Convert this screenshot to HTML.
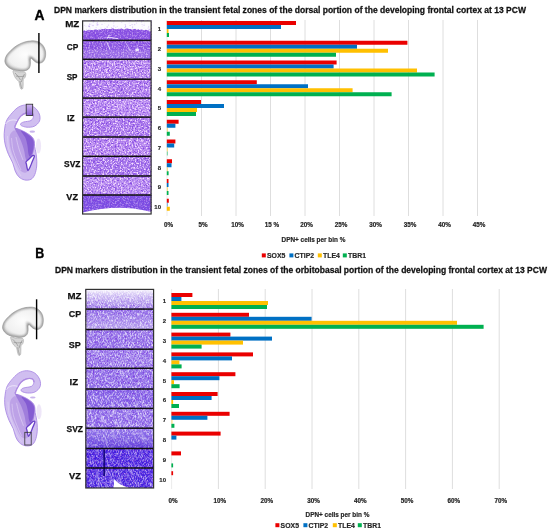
<!DOCTYPE html>
<html><head><meta charset="utf-8"><style>
html,body{margin:0;padding:0;background:#fff;}
svg{display:block;will-change:transform;}
text{font-family:"Liberation Sans",sans-serif;font-weight:bold;fill:#262626;}
.bl{font-size:6.0px;stroke:#262626;stroke-width:0.15px;}
.ax{font-size:6.3px;stroke:#262626;stroke-width:0.2px;}
.xt{font-size:6.4px;stroke:#262626;stroke-width:0.18px;}
.lg{font-size:6.9px;stroke:#262626;stroke-width:0.18px;}
.zl{font-size:9.8px;fill:#111;stroke:#111;stroke-width:0.25px;}
.tt{font-size:8.6px;fill:#111;stroke:#111;stroke-width:0.26px;}
.big{font-size:14.6px;fill:#000;stroke:#000;stroke-width:0.35px;}
</style></head><body>
<svg width="550" height="531" viewBox="0 0 550 531">
<defs>
<filter id="texA" x="0" y="0" width="100%" height="100%" color-interpolation-filters="sRGB">
<feTurbulence type="fractalNoise" baseFrequency="0.65" numOctaves="3" seed="3" result="n"/>
<feColorMatrix in="n" type="matrix" values="0 0 0 0 0.96  0 0 0 0 0.86  0 0 0 0 1  3.4 0 0 0 -1.55"/>
</filter>
<filter id="texB" x="0" y="0" width="100%" height="100%" color-interpolation-filters="sRGB">
<feTurbulence type="fractalNoise" baseFrequency="1.6 0.45" numOctaves="2" seed="7" result="n"/>
<feColorMatrix in="n" type="matrix" values="0 0 0 0 0.94  0 0 0 0 0.92  0 0 0 0 1  3.0 0 0 0 -1.3"/>
</filter>
<filter id="dk" x="0" y="0" width="100%" height="100%" color-interpolation-filters="sRGB">
<feTurbulence type="fractalNoise" baseFrequency="0.6" numOctaves="2" seed="11" result="n"/>
<feColorMatrix in="n" type="matrix" values="0 0 0 0 0.5  0 0 0 0 0.26  0 0 0 0 0.88  3.4 0 0 0 -1.6"/>
</filter>
<radialGradient id="bgrad" cx="0.5" cy="0.45" r="0.62"><stop offset="0" stop-color="#fdfdfd"/><stop offset="0.7" stop-color="#f0f0f0"/><stop offset="1" stop-color="#c8c8c8"/></radialGradient>
<linearGradient id="gB1" x1="0" y1="0" x2="0" y2="1"><stop offset="0" stop-color="#fff" stop-opacity="0.95"/><stop offset="0.25" stop-color="#fff" stop-opacity="0.6"/><stop offset="1" stop-color="#fff" stop-opacity="0"/></linearGradient>
<linearGradient id="gB2" x1="0" y1="0" x2="0" y2="1"><stop offset="0" stop-color="#fff" stop-opacity="0"/><stop offset="1" stop-color="#fff" stop-opacity="0.35"/></linearGradient>
<linearGradient id="gB8" x1="0" y1="0" x2="0" y2="1"><stop offset="0" stop-color="#fff" stop-opacity="0.2"/><stop offset="1" stop-color="rgb(60,30,200)" stop-opacity="0.35"/></linearGradient>
<linearGradient id="gRect" x1="0" y1="0" x2="0" y2="1"><stop offset="0" stop-color="rgb(205,180,238)"/><stop offset="1" stop-color="rgb(135,95,212)"/></linearGradient>
<clipPath id="bclip"><path d="M4.90,60.00 C5.10,58.57 5.68,56.73 6.70,55.10 C7.72,53.47 9.25,51.83 11.00,50.20 C12.75,48.57 14.95,46.67 17.20,45.30 C19.45,43.93 22.05,42.75 24.50,42.00 C26.95,41.25 29.85,40.92 31.90,40.80 C33.95,40.68 35.27,40.85 36.80,41.30 C38.33,41.75 39.88,42.52 41.10,43.50 C42.32,44.48 43.35,45.77 44.10,47.20 C44.85,48.63 45.40,50.37 45.60,52.10 C45.80,53.83 45.65,56.07 45.30,57.60 C44.95,59.13 44.32,60.38 43.50,61.30 C42.68,62.22 41.52,62.85 40.40,63.10 C39.28,63.35 37.92,63.22 36.80,62.80 C35.68,62.38 34.57,61.33 33.70,60.60 C32.83,59.87 32.15,58.60 31.60,58.40 C31.05,58.20 30.60,58.42 30.40,59.40 C30.20,60.38 30.57,62.87 30.40,64.30 C30.23,65.73 30.08,66.98 29.40,68.00 C28.72,69.02 27.73,69.88 26.30,70.40 C24.87,70.92 22.93,71.20 20.80,71.10 C18.67,71.00 15.53,70.42 13.50,69.80 C11.47,69.18 9.93,68.42 8.60,67.40 C7.27,66.38 6.12,64.93 5.50,63.70 C4.88,62.47 4.70,61.43 4.90,60.00 Z"/></clipPath><filter id="bblur" x="-20%" y="-20%" width="140%" height="140%"><feGaussianBlur stdDeviation="0.9"/></filter>
</defs>

<g id="brain3d">
<path d="M13.20,70.50 C13.90,70.05 16.12,71.55 18.00,71.80 C19.88,72.05 23.20,71.55 24.50,72.00 C25.80,72.45 25.72,73.58 25.80,74.50 C25.88,75.42 25.42,76.67 25.00,77.50 C24.58,78.33 23.60,78.42 23.30,79.50 C23.00,80.58 23.28,82.53 23.20,84.00 C23.12,85.47 23.17,87.47 22.80,88.30 C22.43,89.13 21.50,89.38 21.00,89.00 C20.50,88.62 20.17,87.25 19.80,86.00 C19.43,84.75 19.47,82.75 18.80,81.50 C18.13,80.25 16.63,79.67 15.80,78.50 C14.97,77.33 14.23,75.83 13.80,74.50 C13.37,73.17 12.50,70.95 13.20,70.50 Z" fill="#d6d6d6" stroke="#9a9a9a" stroke-width="0.5"/>
<path d="M15,73 C17,75 19,77 20.5,80 M24.5,74 C23,76.5 22,79 21.3,82 M20,81 C20.5,84 21,86 21.8,88.5 M16,76 C18.5,76.5 21,77 24.5,76" stroke="#888" stroke-width="0.6" fill="none"/>
<path d="M4.90,60.00 C5.10,58.57 5.68,56.73 6.70,55.10 C7.72,53.47 9.25,51.83 11.00,50.20 C12.75,48.57 14.95,46.67 17.20,45.30 C19.45,43.93 22.05,42.75 24.50,42.00 C26.95,41.25 29.85,40.92 31.90,40.80 C33.95,40.68 35.27,40.85 36.80,41.30 C38.33,41.75 39.88,42.52 41.10,43.50 C42.32,44.48 43.35,45.77 44.10,47.20 C44.85,48.63 45.40,50.37 45.60,52.10 C45.80,53.83 45.65,56.07 45.30,57.60 C44.95,59.13 44.32,60.38 43.50,61.30 C42.68,62.22 41.52,62.85 40.40,63.10 C39.28,63.35 37.92,63.22 36.80,62.80 C35.68,62.38 34.57,61.33 33.70,60.60 C32.83,59.87 32.15,58.60 31.60,58.40 C31.05,58.20 30.60,58.42 30.40,59.40 C30.20,60.38 30.57,62.87 30.40,64.30 C30.23,65.73 30.08,66.98 29.40,68.00 C28.72,69.02 27.73,69.88 26.30,70.40 C24.87,70.92 22.93,71.20 20.80,71.10 C18.67,71.00 15.53,70.42 13.50,69.80 C11.47,69.18 9.93,68.42 8.60,67.40 C7.27,66.38 6.12,64.93 5.50,63.70 C4.88,62.47 4.70,61.43 4.90,60.00 Z" fill="url(#bgrad)"/>
<g clip-path="url(#bclip)"><path d="M4.90,60.00 C5.10,58.57 5.68,56.73 6.70,55.10 C7.72,53.47 9.25,51.83 11.00,50.20 C12.75,48.57 14.95,46.67 17.20,45.30 C19.45,43.93 22.05,42.75 24.50,42.00 C26.95,41.25 29.85,40.92 31.90,40.80 C33.95,40.68 35.27,40.85 36.80,41.30 C38.33,41.75 39.88,42.52 41.10,43.50 C42.32,44.48 43.35,45.77 44.10,47.20 C44.85,48.63 45.40,50.37 45.60,52.10 C45.80,53.83 45.65,56.07 45.30,57.60 C44.95,59.13 44.32,60.38 43.50,61.30 C42.68,62.22 41.52,62.85 40.40,63.10 C39.28,63.35 37.92,63.22 36.80,62.80 C35.68,62.38 34.57,61.33 33.70,60.60 C32.83,59.87 32.15,58.60 31.60,58.40 C31.05,58.20 30.60,58.42 30.40,59.40 C30.20,60.38 30.57,62.87 30.40,64.30 C30.23,65.73 30.08,66.98 29.40,68.00 C28.72,69.02 27.73,69.88 26.30,70.40 C24.87,70.92 22.93,71.20 20.80,71.10 C18.67,71.00 15.53,70.42 13.50,69.80 C11.47,69.18 9.93,68.42 8.60,67.40 C7.27,66.38 6.12,64.93 5.50,63.70 C4.88,62.47 4.70,61.43 4.90,60.00 Z" fill="none" stroke="#9a9a9a" stroke-width="2.6" filter="url(#bblur)"/>
<path d="M29.00,55.50 C29.50,55.42 31.08,56.75 32.00,57.50 C32.92,58.25 33.58,59.20 34.50,60.00 C35.42,60.80 36.52,61.78 37.50,62.30 C38.48,62.82 40.48,62.82 40.40,63.10 C40.32,63.38 38.15,63.93 37.00,64.00 C35.85,64.07 34.50,63.33 33.50,63.50 C32.50,63.67 31.58,65.33 31.00,65.00 C30.42,64.67 30.33,62.67 30.00,61.50 C29.67,60.33 29.17,59.00 29.00,58.00 C28.83,57.00 28.50,55.58 29.00,55.50 Z" fill="#8c8c8c" opacity="0.6" filter="url(#bblur)"/></g>
<path d="M4.90,60.00 C5.10,58.57 5.68,56.73 6.70,55.10 C7.72,53.47 9.25,51.83 11.00,50.20 C12.75,48.57 14.95,46.67 17.20,45.30 C19.45,43.93 22.05,42.75 24.50,42.00 C26.95,41.25 29.85,40.92 31.90,40.80 C33.95,40.68 35.27,40.85 36.80,41.30 C38.33,41.75 39.88,42.52 41.10,43.50 C42.32,44.48 43.35,45.77 44.10,47.20 C44.85,48.63 45.40,50.37 45.60,52.10 C45.80,53.83 45.65,56.07 45.30,57.60 C44.95,59.13 44.32,60.38 43.50,61.30 C42.68,62.22 41.52,62.85 40.40,63.10 C39.28,63.35 37.92,63.22 36.80,62.80 C35.68,62.38 34.57,61.33 33.70,60.60 C32.83,59.87 32.15,58.60 31.60,58.40 C31.05,58.20 30.60,58.42 30.40,59.40 C30.20,60.38 30.57,62.87 30.40,64.30 C30.23,65.73 30.08,66.98 29.40,68.00 C28.72,69.02 27.73,69.88 26.30,70.40 C24.87,70.92 22.93,71.20 20.80,71.10 C18.67,71.00 15.53,70.42 13.50,69.80 C11.47,69.18 9.93,68.42 8.60,67.40 C7.27,66.38 6.12,64.93 5.50,63.70 C4.88,62.47 4.70,61.43 4.90,60.00 Z" fill="none" stroke="#8e8e8e" stroke-width="0.5"/>
<rect x="38.2" y="33" width="1.4" height="40" fill="#000"/>
</g>


<g id="sectA">
<path d="M4.50,130.00 C4.83,127.42 5.18,124.05 6.20,121.50 C7.22,118.95 8.63,117.05 10.60,114.70 C12.57,112.35 15.40,109.03 18.00,107.40 C20.60,105.77 23.47,104.90 26.20,104.90 C28.93,104.90 32.22,105.88 34.40,107.40 C36.58,108.92 38.45,111.73 39.30,114.00 C40.15,116.27 40.32,118.97 39.50,121.00 C38.68,123.03 36.48,125.17 34.40,126.20 C32.32,127.23 29.18,127.30 27.00,127.20 C24.82,127.10 22.33,126.20 21.30,125.60 C20.27,125.00 20.40,124.20 20.80,123.60 C21.20,123.00 22.00,122.52 23.70,122.00 C25.40,121.48 29.37,121.43 31.00,120.50 C32.63,119.57 33.33,117.62 33.50,116.40 C33.67,115.18 33.22,113.77 32.00,113.20 C30.78,112.63 28.12,112.47 26.20,113.00 C24.28,113.53 22.13,114.73 20.50,116.40 C18.87,118.07 17.37,121.10 16.40,123.00 C15.43,124.90 14.17,126.72 14.70,127.80 C15.23,128.88 17.68,128.68 19.60,129.50 C21.52,130.32 24.15,131.48 26.20,132.70 C28.25,133.92 30.57,135.42 31.90,136.80 C33.23,138.18 33.75,139.37 34.20,141.00 C34.65,142.63 34.33,144.77 34.60,146.60 C34.87,148.43 35.47,150.10 35.80,152.00 C36.13,153.90 36.45,155.67 36.60,158.00 C36.75,160.33 37.00,163.25 36.70,166.00 C36.40,168.75 35.75,172.28 34.80,174.50 C33.85,176.72 32.72,178.40 31.00,179.30 C29.28,180.20 26.53,180.32 24.50,179.90 C22.47,179.48 20.35,178.28 18.80,176.80 C17.25,175.32 16.20,173.30 15.20,171.00 C14.20,168.70 13.92,165.75 12.80,163.00 C11.68,160.25 9.75,157.50 8.50,154.50 C7.25,151.50 6.02,147.92 5.30,145.00 C4.58,142.08 4.33,139.50 4.20,137.00 C4.07,134.50 4.17,132.58 4.50,130.00 Z" fill="rgb(208,190,240)" stroke="rgb(172,140,228)" stroke-width="0.9"/>
<path d="M9.50,137.00 C9.83,133.83 11.58,131.92 13.00,131.00 C14.42,130.08 16.00,130.83 18.00,131.50 C20.00,132.17 22.83,133.25 25.00,135.00 C27.17,136.75 29.67,139.17 31.00,142.00 C32.33,144.83 33.00,148.50 33.00,152.00 C33.00,155.50 32.00,159.67 31.00,163.00 C30.00,166.33 28.67,170.67 27.00,172.00 C25.33,173.33 22.83,172.67 21.00,171.00 C19.17,169.33 17.67,165.50 16.00,162.00 C14.33,158.50 12.08,154.17 11.00,150.00 C9.92,145.83 9.17,140.17 9.50,137.00 Z" fill="rgb(186,158,230)" opacity="0.9"/>
<path d="M7.50,136.00 C7.67,138.00 7.75,144.33 8.50,148.00 C9.25,151.67 10.75,154.67 12.00,158.00 C13.25,161.33 14.50,165.00 16.00,168.00 C17.50,171.00 20.17,174.67 21.00,176.00 " stroke="rgb(228,215,246)" stroke-width="0.7" fill="none" opacity="0.8"/><path d="M11.50,138.00 C11.75,140.00 12.08,146.17 13.00,150.00 C13.92,153.83 15.67,157.67 17.00,161.00 C18.33,164.33 20.33,168.50 21.00,170.00 " stroke="rgb(228,215,246)" stroke-width="0.7" fill="none" opacity="0.8"/><path d="M16.00,137.00 C16.50,139.00 17.83,145.17 19.00,149.00 C20.17,152.83 22.33,158.17 23.00,160.00 " stroke="rgb(228,215,246)" stroke-width="0.7" fill="none" opacity="0.8"/>
<path d="M33.50,116.40 C33.25,115.87 33.22,113.77 32.00,113.20 C30.78,112.63 28.12,112.47 26.20,113.00 C24.28,113.53 22.13,114.73 20.50,116.40 C18.87,118.07 17.37,121.10 16.40,123.00 C15.43,124.90 14.98,127.00 14.70,127.80 " stroke="rgb(175,140,225)" stroke-width="1.3" fill="none"/>
<path d="M14.70,128.00 C15.13,127.43 17.68,128.80 19.60,129.60 C21.52,130.40 24.15,131.58 26.20,132.80 C28.25,134.02 30.58,135.53 31.90,136.90 C33.22,138.27 33.72,139.38 34.10,141.00 C34.48,142.62 34.38,144.52 34.20,146.60 C34.02,148.68 33.78,151.52 33.00,153.50 C32.22,155.48 30.50,157.33 29.50,158.50 C28.50,159.67 27.67,160.58 27.00,160.50 C26.33,160.42 26.00,159.75 25.50,158.00 C25.00,156.25 24.75,152.83 24.00,150.00 C23.25,147.17 22.17,143.83 21.00,141.00 C19.83,138.17 18.05,135.17 17.00,133.00 C15.95,130.83 14.27,128.57 14.70,128.00 Z" fill="rgb(160,126,220)"/>
<path d="M21.00,131.00 C21.17,130.25 24.75,132.42 26.50,133.50 C28.25,134.58 30.32,136.17 31.50,137.50 C32.68,138.83 33.27,139.92 33.60,141.50 C33.93,143.08 33.73,145.08 33.50,147.00 C33.27,148.92 32.82,151.42 32.20,153.00 C31.58,154.58 30.45,156.50 29.80,156.50 C29.15,156.50 28.68,154.75 28.30,153.00 C27.92,151.25 27.97,148.50 27.50,146.00 C27.03,143.50 26.58,140.50 25.50,138.00 C24.42,135.50 20.83,131.75 21.00,131.00 Z" fill="rgb(132,92,210)"/>
<path d="M26.00,162.00 C26.42,161.08 27.92,160.05 29.00,159.00 C30.08,157.95 31.60,156.17 32.50,155.70 C33.40,155.23 34.43,155.23 34.40,156.20 C34.37,157.17 33.02,159.70 32.30,161.50 C31.58,163.30 30.82,165.50 30.10,167.00 C29.38,168.50 28.52,170.42 28.00,170.50 C27.48,170.58 27.25,168.50 27.00,167.50 C26.75,166.50 26.67,165.42 26.50,164.50 C26.33,163.58 25.58,162.92 26.00,162.00 Z" fill="#fcfaff" stroke="rgb(105,65,200)" stroke-width="1.3"/>
<ellipse cx="38.5" cy="146" rx="2.6" ry="7.5" fill="rgb(226,214,244)" opacity="0.6"/>
<ellipse cx="32.3" cy="131.7" rx="2.8" ry="1.1" fill="rgb(200,180,236)"/>
<path d="M5.5,124 C8,120.5 12,119 17,120.5" stroke="#f4effc" stroke-width="0.8" fill="none"/>
</g>
<rect x="26.2" y="104.2" width="6.5" height="11.3" fill="url(#gRect)" stroke="#2a2a2a" stroke-width="0.8"/>
<use href="#brain3d" transform="translate(-2.3,266.3)"/>
<use href="#sectA" transform="translate(0.5,265.8)"/>
<rect x="24.8" y="432.3" width="6.4" height="12.7" fill="none" stroke="#333" stroke-width="0.8"/>
<text x="34.6" y="20.4" class="big" textLength="10" lengthAdjust="spacingAndGlyphs">A</text>
<text x="35.2" y="258.2" class="big" textLength="9" lengthAdjust="spacingAndGlyphs">B</text>
<text x="54" y="12.6" class="tt" textLength="472" lengthAdjust="spacingAndGlyphs">DPN markers distribution in the transient fetal zones of the dorsal portion of the developing frontal cortex at 13 PCW</text>
<text x="55" y="273" class="tt" textLength="492" lengthAdjust="spacingAndGlyphs">DPN markers distribution in the transient fetal zones of the orbitobasal portion of the developing frontal cortex at 13 PCW</text>
<rect x="82.6" y="20.90" width="68.50" height="19.50" fill="rgb(138,84,226)"/>
<rect x="82.6" y="40.40" width="68.50" height="18.90" fill="rgb(142,92,228)"/>
<rect x="82.6" y="59.30" width="68.50" height="19.90" fill="rgb(180,134,238)"/>
<rect x="82.6" y="79.20" width="68.50" height="18.90" fill="rgb(172,124,236)"/>
<rect x="82.6" y="98.10" width="68.50" height="19.00" fill="rgb(182,137,240)"/>
<rect x="82.6" y="117.10" width="68.50" height="19.90" fill="rgb(170,122,236)"/>
<rect x="82.6" y="137.00" width="68.50" height="19.30" fill="rgb(180,133,238)"/>
<rect x="82.6" y="156.30" width="68.50" height="19.70" fill="rgb(163,116,234)"/>
<rect x="82.6" y="176.00" width="68.50" height="19.00" fill="rgb(182,139,240)"/>
<rect x="82.6" y="195.00" width="68.50" height="19.00" fill="rgb(122,78,226)"/>

<rect x="82.6" y="20.9" width="68.5" height="193.1" filter="url(#dk)" fill="#fff"/>
<rect x="82.6" y="20.90" width="68.50" height="19.50" filter="url(#texA)" fill="#fff" opacity="0.45"/>
<rect x="82.6" y="40.40" width="68.50" height="18.90" filter="url(#texA)" fill="#fff" opacity="0.55"/>
<rect x="82.6" y="59.30" width="68.50" height="19.90" filter="url(#texA)" fill="#fff" opacity="1"/>
<rect x="82.6" y="79.20" width="68.50" height="18.90" filter="url(#texA)" fill="#fff" opacity="1"/>
<rect x="82.6" y="98.10" width="68.50" height="19.00" filter="url(#texA)" fill="#fff" opacity="1"/>
<rect x="82.6" y="117.10" width="68.50" height="19.90" filter="url(#texA)" fill="#fff" opacity="1"/>
<rect x="82.6" y="137.00" width="68.50" height="19.30" filter="url(#texA)" fill="#fff" opacity="1"/>
<rect x="82.6" y="156.30" width="68.50" height="19.70" filter="url(#texA)" fill="#fff" opacity="1"/>
<rect x="82.6" y="176.00" width="68.50" height="19.00" filter="url(#texA)" fill="#fff" opacity="1"/>
<rect x="82.6" y="195.00" width="68.50" height="19.00" filter="url(#texA)" fill="#fff" opacity="0.45"/>
<path d="M82.6,20.8 H151.1 V31.0 L150.1,31.0 L148.6,30.6 L147.1,30.0 L145.6,29.8 L144.1,30.5 L142.6,29.8 L141.1,29.4 L139.6,30.1 L138.1,29.0 L136.6,29.8 L135.1,28.8 L133.6,29.2 L132.1,29.4 L130.6,29.1 L129.1,28.9 L127.6,28.4 L126.1,28.6 L124.6,29.2 L123.1,29.2 L121.6,28.4 L120.1,29.0 L118.6,28.7 L117.1,29.2 L115.6,29.2 L114.1,29.1 L112.6,28.3 L111.1,28.9 L109.6,28.9 L108.1,29.2 L106.6,29.1 L105.1,28.6 L103.6,29.2 L102.1,29.0 L100.6,29.7 L99.1,29.6 L97.6,29.9 L96.1,29.6 L94.6,29.5 L93.1,30.3 L91.6,30.1 L90.1,30.0 L88.6,29.8 L87.1,30.6 L85.6,31.0 L84.1,30.2 L82.6,31.3 Z" fill="rgb(252,251,255)"/><circle cx="113.9" cy="26.0" r="0.67" fill="rgb(170,130,235)" opacity="0.39"/><circle cx="117.5" cy="26.2" r="0.37" fill="rgb(170,130,235)" opacity="0.40"/><circle cx="125.6" cy="27.8" r="0.34" fill="rgb(170,130,235)" opacity="0.32"/><circle cx="90.0" cy="28.0" r="0.58" fill="rgb(170,130,235)" opacity="0.22"/><circle cx="148.8" cy="29.2" r="0.56" fill="rgb(170,130,235)" opacity="0.45"/><circle cx="94.4" cy="21.6" r="0.51" fill="rgb(170,130,235)" opacity="0.22"/><circle cx="96.6" cy="23.4" r="0.31" fill="rgb(170,130,235)" opacity="0.39"/><circle cx="113.1" cy="28.2" r="0.51" fill="rgb(170,130,235)" opacity="0.46"/><circle cx="117.0" cy="26.8" r="0.48" fill="rgb(170,130,235)" opacity="0.31"/><circle cx="149.8" cy="29.5" r="0.64" fill="rgb(170,130,235)" opacity="0.48"/><circle cx="104.8" cy="23.3" r="0.42" fill="rgb(170,130,235)" opacity="0.23"/><circle cx="134.6" cy="24.7" r="0.64" fill="rgb(170,130,235)" opacity="0.35"/><circle cx="147.2" cy="28.3" r="0.30" fill="rgb(170,130,235)" opacity="0.28"/><circle cx="144.1" cy="25.3" r="0.69" fill="rgb(170,130,235)" opacity="0.36"/><circle cx="88.8" cy="26.5" r="0.61" fill="rgb(170,130,235)" opacity="0.31"/><circle cx="89.8" cy="24.2" r="0.69" fill="rgb(170,130,235)" opacity="0.50"/><circle cx="91.8" cy="23.5" r="0.34" fill="rgb(170,130,235)" opacity="0.22"/><circle cx="136.6" cy="22.9" r="0.52" fill="rgb(170,130,235)" opacity="0.38"/><circle cx="96.6" cy="27.4" r="0.35" fill="rgb(170,130,235)" opacity="0.46"/><circle cx="91.7" cy="24.9" r="0.39" fill="rgb(170,130,235)" opacity="0.31"/><circle cx="148.1" cy="27.9" r="0.42" fill="rgb(170,130,235)" opacity="0.55"/><circle cx="97.9" cy="24.7" r="0.64" fill="rgb(170,130,235)" opacity="0.46"/><circle cx="90.6" cy="29.4" r="0.39" fill="rgb(170,130,235)" opacity="0.30"/><circle cx="135.0" cy="24.1" r="0.42" fill="rgb(170,130,235)" opacity="0.23"/><circle cx="89.9" cy="26.2" r="0.40" fill="rgb(170,130,235)" opacity="0.44"/><circle cx="108.5" cy="25.1" r="0.68" fill="rgb(170,130,235)" opacity="0.39"/><circle cx="121.9" cy="28.4" r="0.37" fill="rgb(170,130,235)" opacity="0.26"/><circle cx="144.0" cy="28.0" r="0.40" fill="rgb(170,130,235)" opacity="0.28"/><circle cx="132.8" cy="29.0" r="0.38" fill="rgb(170,130,235)" opacity="0.58"/><circle cx="142.2" cy="26.3" r="0.47" fill="rgb(170,130,235)" opacity="0.24"/><circle cx="86.6" cy="29.2" r="0.40" fill="rgb(170,130,235)" opacity="0.48"/><circle cx="101.0" cy="28.1" r="0.54" fill="rgb(170,130,235)" opacity="0.32"/><circle cx="95.6" cy="27.3" r="0.33" fill="rgb(170,130,235)" opacity="0.29"/><circle cx="120.9" cy="28.3" r="0.55" fill="rgb(170,130,235)" opacity="0.31"/><circle cx="144.5" cy="23.1" r="0.31" fill="rgb(170,130,235)" opacity="0.31"/><circle cx="113.4" cy="22.0" r="0.37" fill="rgb(170,130,235)" opacity="0.35"/><circle cx="121.8" cy="22.6" r="0.44" fill="rgb(170,130,235)" opacity="0.56"/><circle cx="148.7" cy="26.8" r="0.58" fill="rgb(170,130,235)" opacity="0.43"/><circle cx="93.3" cy="21.8" r="0.31" fill="rgb(170,130,235)" opacity="0.56"/><circle cx="130.3" cy="29.2" r="0.31" fill="rgb(170,130,235)" opacity="0.45"/><circle cx="115.8" cy="27.3" r="0.43" fill="rgb(170,130,235)" opacity="0.60"/><circle cx="89.0" cy="25.9" r="0.59" fill="rgb(170,130,235)" opacity="0.56"/><circle cx="132.6" cy="27.1" r="0.62" fill="rgb(170,130,235)" opacity="0.57"/><circle cx="107.2" cy="27.0" r="0.66" fill="rgb(170,130,235)" opacity="0.55"/><circle cx="111.5" cy="27.8" r="0.65" fill="rgb(170,130,235)" opacity="0.43"/><circle cx="125.2" cy="24.6" r="0.53" fill="rgb(170,130,235)" opacity="0.44"/><circle cx="89.3" cy="26.6" r="0.70" fill="rgb(170,130,235)" opacity="0.55"/><circle cx="132.1" cy="24.6" r="0.59" fill="rgb(170,130,235)" opacity="0.43"/><circle cx="113.1" cy="28.2" r="0.33" fill="rgb(170,130,235)" opacity="0.50"/><circle cx="86.0" cy="26.3" r="0.49" fill="rgb(170,130,235)" opacity="0.29"/><circle cx="130.1" cy="25.5" r="0.55" fill="rgb(170,130,235)" opacity="0.57"/><circle cx="100.9" cy="21.6" r="0.42" fill="rgb(170,130,235)" opacity="0.47"/><circle cx="97.4" cy="22.9" r="0.66" fill="rgb(170,130,235)" opacity="0.46"/><circle cx="113.2" cy="28.6" r="0.43" fill="rgb(170,130,235)" opacity="0.47"/><circle cx="97.1" cy="24.9" r="0.62" fill="rgb(170,130,235)" opacity="0.57"/><circle cx="142.1" cy="24.6" r="0.53" fill="rgb(170,130,235)" opacity="0.33"/><circle cx="93.0" cy="25.5" r="0.63" fill="rgb(170,130,235)" opacity="0.54"/><circle cx="130.9" cy="29.1" r="0.41" fill="rgb(170,130,235)" opacity="0.27"/><circle cx="113.7" cy="23.7" r="0.39" fill="rgb(170,130,235)" opacity="0.37"/><circle cx="125.3" cy="25.5" r="0.43" fill="rgb(170,130,235)" opacity="0.54"/><circle cx="148.8" cy="25.1" r="0.33" fill="rgb(170,130,235)" opacity="0.21"/><circle cx="141.6" cy="21.8" r="0.58" fill="rgb(170,130,235)" opacity="0.43"/><circle cx="104.4" cy="27.8" r="0.31" fill="rgb(170,130,235)" opacity="0.25"/><circle cx="114.0" cy="21.7" r="0.63" fill="rgb(170,130,235)" opacity="0.29"/><circle cx="93.3" cy="21.9" r="0.55" fill="rgb(170,130,235)" opacity="0.38"/><circle cx="125.6" cy="26.7" r="0.62" fill="rgb(170,130,235)" opacity="0.58"/><circle cx="129.2" cy="23.1" r="0.49" fill="rgb(170,130,235)" opacity="0.27"/><circle cx="84.7" cy="25.3" r="0.59" fill="rgb(170,130,235)" opacity="0.27"/><circle cx="102.0" cy="24.3" r="0.58" fill="rgb(170,130,235)" opacity="0.41"/><circle cx="124.6" cy="27.5" r="0.46" fill="rgb(170,130,235)" opacity="0.52"/><path d="M107.3,37.5 C110,37 114,38 118.2,38.8" stroke="#f8f4fe" stroke-width="1" fill="none" opacity="0.8"/><path d="M109.3,34.7 C108.5,36 107.8,37.5 107.3,38.8" stroke="#f8f4fe" stroke-width="0.9" fill="none" opacity="0.8"/><path d="M106.6,41.6 C107.5,44 109,46.5 110,49.7" stroke="#f8f4fe" stroke-width="1" fill="none" opacity="0.75"/><path d="M125,41.6 C127,44.5 129,48 130.5,51" stroke="#f4eefc" stroke-width="0.8" fill="none" opacity="0.6"/><ellipse cx="137.3" cy="49.7" rx="1.8" ry="1.5" fill="#f8f4fe" opacity="0.9"/><rect x="83" y="50" width="67.7" height="9" fill="#fff" opacity="0.12"/><path d="M82.6,214 L82.6,212.5 C95,209 108,207.6 121,207.7 C133,207.8 143,210 151.1,211.8 V214 Z" fill="#fff"/>
<rect x="82.6" y="39.65" width="68.50" height="1.5" fill="#0e0e0e"/>
<rect x="82.6" y="58.55" width="68.50" height="1.5" fill="#0e0e0e"/>
<rect x="82.6" y="78.45" width="68.50" height="1.5" fill="#0e0e0e"/>
<rect x="82.6" y="97.35" width="68.50" height="1.5" fill="#0e0e0e"/>
<rect x="82.6" y="116.35" width="68.50" height="1.5" fill="#0e0e0e"/>
<rect x="82.6" y="136.25" width="68.50" height="1.5" fill="#0e0e0e"/>
<rect x="82.6" y="155.55" width="68.50" height="1.5" fill="#0e0e0e"/>
<rect x="82.6" y="175.25" width="68.50" height="1.5" fill="#0e0e0e"/>
<rect x="82.6" y="194.25" width="68.50" height="1.5" fill="#0e0e0e"/>
<rect x="82.6" y="20.9" width="68.5" height="193.1" fill="none" stroke="#333" stroke-width="1.2"/>

<text x="65.2" y="27.4" class="zl" textLength="14.099999999999994" lengthAdjust="spacingAndGlyphs">MZ</text>
<text x="66.7" y="50.2" class="zl" textLength="11.599999999999994" lengthAdjust="spacingAndGlyphs">CP</text>
<text x="66.7" y="80.3" class="zl" textLength="10.799999999999997" lengthAdjust="spacingAndGlyphs">SP</text>
<text x="66.9" y="120.9" class="zl" textLength="7.799999999999997" lengthAdjust="spacingAndGlyphs">IZ</text>
<text x="64.1" y="166.5" class="zl" textLength="16.400000000000006" lengthAdjust="spacingAndGlyphs">SVZ</text>
<text x="66.3" y="199.5" class="zl" textLength="11.700000000000003" lengthAdjust="spacingAndGlyphs">VZ</text>
<text x="67.5" y="299.0" class="zl" textLength="14" lengthAdjust="spacingAndGlyphs">MZ</text>
<text x="68.8" y="316.6" class="zl" textLength="12.400000000000006" lengthAdjust="spacingAndGlyphs">CP</text>
<text x="68.8" y="348.0" class="zl" textLength="12.0" lengthAdjust="spacingAndGlyphs">SP</text>
<text x="69.5" y="385.2" class="zl" textLength="8.599999999999994" lengthAdjust="spacingAndGlyphs">IZ</text>
<text x="66.5" y="431.7" class="zl" textLength="16.5" lengthAdjust="spacingAndGlyphs">SVZ</text>
<text x="69.0" y="479.3" class="zl" textLength="11.900000000000006" lengthAdjust="spacingAndGlyphs">VZ</text>
<rect x="85.8" y="289.40" width="67.80" height="19.70" fill="rgb(160,130,232)"/>
<rect x="85.8" y="309.10" width="67.80" height="20.40" fill="rgb(145,112,230)"/>
<rect x="85.8" y="329.50" width="67.80" height="19.70" fill="rgb(150,118,232)"/>
<rect x="85.8" y="349.20" width="67.80" height="19.10" fill="rgb(156,126,234)"/>
<rect x="85.8" y="368.30" width="67.80" height="20.70" fill="rgb(146,115,232)"/>
<rect x="85.8" y="389.00" width="67.80" height="19.40" fill="rgb(132,100,230)"/>
<rect x="85.8" y="408.40" width="67.80" height="19.80" fill="rgb(142,110,232)"/>
<rect x="85.8" y="428.20" width="67.80" height="20.30" fill="rgb(112,78,228)"/>
<rect x="85.8" y="448.50" width="67.80" height="19.50" fill="rgb(66,30,222)"/>
<rect x="85.8" y="468.00" width="67.80" height="20.00" fill="rgb(68,34,222)"/>

<rect x="85.8" y="289.4" width="67.8" height="198.60000000000002" filter="url(#dk)" fill="#fff"/>
<rect x="85.8" y="289.40" width="67.80" height="19.70" filter="url(#texB)" fill="#fff" opacity="0.9"/>
<rect x="85.8" y="309.10" width="67.80" height="20.40" filter="url(#texB)" fill="#fff" opacity="0.8"/>
<rect x="85.8" y="329.50" width="67.80" height="19.70" filter="url(#texB)" fill="#fff" opacity="0.8"/>
<rect x="85.8" y="349.20" width="67.80" height="19.10" filter="url(#texB)" fill="#fff" opacity="0.8"/>
<rect x="85.8" y="368.30" width="67.80" height="20.70" filter="url(#texB)" fill="#fff" opacity="0.8"/>
<rect x="85.8" y="389.00" width="67.80" height="19.40" filter="url(#texB)" fill="#fff" opacity="0.8"/>
<rect x="85.8" y="408.40" width="67.80" height="19.80" filter="url(#texB)" fill="#fff" opacity="0.8"/>
<rect x="85.8" y="428.20" width="67.80" height="20.30" filter="url(#texB)" fill="#fff" opacity="0.75"/>
<rect x="85.8" y="448.50" width="67.80" height="19.50" filter="url(#texB)" fill="#fff" opacity="0.6"/>
<rect x="85.8" y="468.00" width="67.80" height="20.00" filter="url(#texB)" fill="#fff" opacity="0.6"/>
<line x1="127.7" y1="462.0" x2="132.3" y2="472.5" stroke="#f0ebff" stroke-width="0.8" opacity="0.53"/><line x1="135.6" y1="479.5" x2="138.1" y2="484.7" stroke="#f0ebff" stroke-width="0.8" opacity="0.39"/><line x1="149.2" y1="453.0" x2="153.5" y2="464.3" stroke="#f0ebff" stroke-width="0.8" opacity="0.28"/><line x1="117.4" y1="413.9" x2="120.6" y2="422.7" stroke="#f0ebff" stroke-width="0.8" opacity="0.42"/><line x1="86.9" y1="411.0" x2="88.0" y2="418.0" stroke="#f0ebff" stroke-width="0.8" opacity="0.52"/><line x1="137.3" y1="405.5" x2="142.5" y2="416.1" stroke="#f0ebff" stroke-width="0.8" opacity="0.29"/><line x1="127.4" y1="402.3" x2="129.5" y2="407.3" stroke="#f0ebff" stroke-width="0.8" opacity="0.51"/><line x1="100.0" y1="410.9" x2="102.9" y2="422.8" stroke="#f0ebff" stroke-width="0.8" opacity="0.51"/><line x1="105.4" y1="483.3" x2="107.8" y2="487.5" stroke="#f0ebff" stroke-width="0.8" opacity="0.45"/><line x1="99.7" y1="481.3" x2="102.1" y2="487.5" stroke="#f0ebff" stroke-width="0.8" opacity="0.54"/><line x1="145.9" y1="419.0" x2="150.0" y2="426.5" stroke="#f0ebff" stroke-width="0.8" opacity="0.30"/><line x1="95.8" y1="396.3" x2="97.3" y2="403.4" stroke="#f0ebff" stroke-width="0.8" opacity="0.43"/><line x1="86.2" y1="455.8" x2="87.3" y2="463.1" stroke="#f0ebff" stroke-width="0.8" opacity="0.34"/><line x1="140.8" y1="436.6" x2="144.6" y2="443.8" stroke="#f0ebff" stroke-width="0.8" opacity="0.39"/><line x1="133.2" y1="395.5" x2="138.7" y2="407.4" stroke="#f0ebff" stroke-width="0.8" opacity="0.26"/><line x1="136.2" y1="472.0" x2="138.7" y2="477.1" stroke="#f0ebff" stroke-width="0.8" opacity="0.49"/><line x1="110.5" y1="446.1" x2="112.1" y2="451.2" stroke="#f0ebff" stroke-width="0.8" opacity="0.26"/><line x1="98.1" y1="482.7" x2="99.6" y2="487.5" stroke="#f0ebff" stroke-width="0.8" opacity="0.48"/><line x1="148.3" y1="481.4" x2="152.5" y2="487.5" stroke="#f0ebff" stroke-width="0.8" opacity="0.36"/><line x1="121.2" y1="465.2" x2="123.4" y2="471.0" stroke="#f0ebff" stroke-width="0.8" opacity="0.47"/><line x1="139.4" y1="473.4" x2="142.1" y2="478.6" stroke="#f0ebff" stroke-width="0.8" opacity="0.53"/><line x1="92.1" y1="423.1" x2="93.9" y2="432.3" stroke="#f0ebff" stroke-width="0.8" opacity="0.53"/><line x1="108.8" y1="479.6" x2="111.4" y2="487.5" stroke="#f0ebff" stroke-width="0.8" opacity="0.34"/><line x1="107.2" y1="407.2" x2="108.8" y2="412.8" stroke="#f0ebff" stroke-width="0.8" opacity="0.29"/><line x1="132.2" y1="486.7" x2="135.0" y2="487.5" stroke="#f0ebff" stroke-width="0.8" opacity="0.26"/><line x1="152.1" y1="441.8" x2="153.5" y2="449.6" stroke="#f0ebff" stroke-width="0.8" opacity="0.32"/><line x1="125.8" y1="470.2" x2="129.2" y2="478.3" stroke="#f0ebff" stroke-width="0.8" opacity="0.38"/><line x1="89.7" y1="478.9" x2="90.6" y2="484.1" stroke="#f0ebff" stroke-width="0.8" opacity="0.40"/><line x1="142.2" y1="402.7" x2="147.5" y2="412.8" stroke="#f0ebff" stroke-width="0.8" opacity="0.53"/><line x1="128.2" y1="466.4" x2="130.7" y2="472.2" stroke="#f0ebff" stroke-width="0.8" opacity="0.38"/><line x1="96.0" y1="471.9" x2="97.5" y2="479.0" stroke="#f0ebff" stroke-width="0.8" opacity="0.39"/><line x1="153.0" y1="472.7" x2="153.5" y2="484.5" stroke="#f0ebff" stroke-width="0.8" opacity="0.39"/><line x1="118.7" y1="460.8" x2="121.8" y2="469.1" stroke="#f0ebff" stroke-width="0.8" opacity="0.34"/><line x1="113.1" y1="404.2" x2="115.6" y2="411.9" stroke="#f0ebff" stroke-width="0.8" opacity="0.55"/><line x1="150.3" y1="450.8" x2="153.5" y2="459.3" stroke="#f0ebff" stroke-width="0.8" opacity="0.35"/><line x1="92.0" y1="416.4" x2="94.0" y2="426.9" stroke="#f0ebff" stroke-width="0.8" opacity="0.51"/><line x1="110.2" y1="466.2" x2="113.5" y2="476.7" stroke="#f0ebff" stroke-width="0.8" opacity="0.46"/><line x1="130.5" y1="463.7" x2="133.9" y2="471.2" stroke="#f0ebff" stroke-width="0.8" opacity="0.46"/><line x1="104.8" y1="437.1" x2="107.7" y2="447.5" stroke="#f0ebff" stroke-width="0.8" opacity="0.46"/><line x1="105.7" y1="481.7" x2="108.4" y2="487.5" stroke="#f0ebff" stroke-width="0.8" opacity="0.42"/><line x1="86.8" y1="443.1" x2="87.8" y2="449.8" stroke="#f0ebff" stroke-width="0.8" opacity="0.45"/><line x1="117.0" y1="469.2" x2="120.4" y2="478.7" stroke="#f0ebff" stroke-width="0.8" opacity="0.49"/><line x1="109.3" y1="452.5" x2="112.4" y2="462.6" stroke="#f0ebff" stroke-width="0.8" opacity="0.50"/><line x1="109.5" y1="471.8" x2="112.9" y2="482.8" stroke="#f0ebff" stroke-width="0.8" opacity="0.46"/><line x1="151.4" y1="482.8" x2="153.5" y2="487.5" stroke="#f0ebff" stroke-width="0.8" opacity="0.41"/><line x1="97.1" y1="471.2" x2="99.7" y2="482.7" stroke="#f0ebff" stroke-width="0.8" opacity="0.39"/><line x1="132.3" y1="459.8" x2="137.0" y2="469.9" stroke="#f0ebff" stroke-width="0.8" opacity="0.30"/><line x1="138.3" y1="446.3" x2="143.1" y2="456.0" stroke="#f0ebff" stroke-width="0.8" opacity="0.38"/><line x1="127.8" y1="465.1" x2="131.9" y2="474.6" stroke="#f0ebff" stroke-width="0.8" opacity="0.47"/><line x1="87.9" y1="405.5" x2="89.2" y2="413.6" stroke="#f0ebff" stroke-width="0.8" opacity="0.45"/><line x1="100.7" y1="456.5" x2="103.0" y2="466.0" stroke="#f0ebff" stroke-width="0.8" opacity="0.26"/><line x1="117.6" y1="411.9" x2="119.5" y2="417.3" stroke="#f0ebff" stroke-width="0.8" opacity="0.29"/><line x1="107.3" y1="407.6" x2="109.1" y2="414.0" stroke="#f0ebff" stroke-width="0.8" opacity="0.26"/><line x1="117.2" y1="426.9" x2="120.5" y2="436.2" stroke="#f0ebff" stroke-width="0.8" opacity="0.43"/><line x1="101.9" y1="477.6" x2="103.2" y2="482.6" stroke="#f0ebff" stroke-width="0.8" opacity="0.37"/><line x1="104.7" y1="429.8" x2="106.3" y2="435.6" stroke="#f0ebff" stroke-width="0.8" opacity="0.50"/><line x1="111.0" y1="393.5" x2="114.0" y2="402.8" stroke="#f0ebff" stroke-width="0.8" opacity="0.28"/><line x1="122.5" y1="422.9" x2="126.1" y2="432.0" stroke="#f0ebff" stroke-width="0.8" opacity="0.54"/><line x1="140.8" y1="430.7" x2="146.4" y2="441.3" stroke="#f0ebff" stroke-width="0.8" opacity="0.44"/><line x1="110.8" y1="403.8" x2="113.7" y2="413.0" stroke="#f0ebff" stroke-width="0.8" opacity="0.42"/><line x1="150.1" y1="483.9" x2="153.5" y2="487.5" stroke="#f0ebff" stroke-width="0.8" opacity="0.36"/><line x1="145.9" y1="390.1" x2="149.0" y2="395.8" stroke="#f0ebff" stroke-width="0.8" opacity="0.42"/><line x1="127.2" y1="403.6" x2="131.2" y2="413.1" stroke="#f0ebff" stroke-width="0.8" opacity="0.52"/><line x1="111.2" y1="431.9" x2="113.3" y2="438.5" stroke="#f0ebff" stroke-width="0.8" opacity="0.34"/><line x1="151.2" y1="426.8" x2="153.5" y2="438.6" stroke="#f0ebff" stroke-width="0.8" opacity="0.52"/><line x1="125.9" y1="415.2" x2="130.9" y2="427.1" stroke="#f0ebff" stroke-width="0.8" opacity="0.40"/><line x1="113.8" y1="421.0" x2="117.8" y2="432.8" stroke="#f0ebff" stroke-width="0.8" opacity="0.40"/><line x1="105.2" y1="436.3" x2="106.8" y2="442.1" stroke="#f0ebff" stroke-width="0.8" opacity="0.44"/><line x1="115.7" y1="418.4" x2="119.4" y2="428.9" stroke="#f0ebff" stroke-width="0.8" opacity="0.50"/><line x1="86.9" y1="441.7" x2="88.0" y2="448.6" stroke="#f0ebff" stroke-width="0.8" opacity="0.53"/><line x1="138.4" y1="413.8" x2="141.8" y2="420.7" stroke="#f0ebff" stroke-width="0.8" opacity="0.30"/><line x1="152.3" y1="418.4" x2="153.5" y2="427.7" stroke="#f0ebff" stroke-width="0.8" opacity="0.39"/><line x1="129.2" y1="448.6" x2="133.7" y2="458.8" stroke="#f0ebff" stroke-width="0.8" opacity="0.29"/><line x1="136.9" y1="419.2" x2="141.2" y2="427.9" stroke="#f0ebff" stroke-width="0.8" opacity="0.35"/><line x1="105.9" y1="441.4" x2="108.2" y2="449.6" stroke="#f0ebff" stroke-width="0.8" opacity="0.36"/><line x1="135.9" y1="447.3" x2="138.5" y2="452.6" stroke="#f0ebff" stroke-width="0.8" opacity="0.33"/><line x1="116.5" y1="478.9" x2="120.5" y2="487.5" stroke="#f0ebff" stroke-width="0.8" opacity="0.41"/><line x1="87.0" y1="465.5" x2="88.2" y2="473.5" stroke="#f0ebff" stroke-width="0.8" opacity="0.42"/><line x1="133.4" y1="451.3" x2="137.4" y2="459.7" stroke="#f0ebff" stroke-width="0.8" opacity="0.52"/><line x1="111.8" y1="428.0" x2="115.4" y2="439.0" stroke="#f0ebff" stroke-width="0.8" opacity="0.31"/><line x1="105.9" y1="470.5" x2="107.4" y2="476.0" stroke="#f0ebff" stroke-width="0.8" opacity="0.50"/><line x1="132.5" y1="432.0" x2="135.8" y2="439.0" stroke="#f0ebff" stroke-width="0.8" opacity="0.48"/><line x1="147.0" y1="403.8" x2="151.7" y2="412.2" stroke="#f0ebff" stroke-width="0.8" opacity="0.41"/><line x1="119.3" y1="422.1" x2="121.6" y2="428.2" stroke="#f0ebff" stroke-width="0.8" opacity="0.43"/><line x1="140.4" y1="396.6" x2="143.8" y2="403.2" stroke="#f0ebff" stroke-width="0.8" opacity="0.50"/><line x1="139.0" y1="454.4" x2="141.7" y2="459.5" stroke="#f0ebff" stroke-width="0.8" opacity="0.47"/><line x1="151.6" y1="486.8" x2="153.5" y2="487.5" stroke="#f0ebff" stroke-width="0.8" opacity="0.26"/><line x1="142.4" y1="411.3" x2="147.5" y2="420.8" stroke="#f0ebff" stroke-width="0.8" opacity="0.54"/><line x1="133.7" y1="403.1" x2="137.1" y2="410.1" stroke="#f0ebff" stroke-width="0.8" opacity="0.53"/><line x1="96.0" y1="449.2" x2="97.7" y2="457.1" stroke="#f0ebff" stroke-width="0.8" opacity="0.30"/><line x1="127.7" y1="394.2" x2="130.2" y2="400.0" stroke="#f0ebff" stroke-width="0.8" opacity="0.36"/><line x1="90.8" y1="395.6" x2="92.5" y2="404.6" stroke="#f0ebff" stroke-width="0.8" opacity="0.47"/><line x1="144.9" y1="403.0" x2="149.2" y2="411.1" stroke="#f0ebff" stroke-width="0.8" opacity="0.34"/><line x1="126.2" y1="437.5" x2="131.1" y2="449.1" stroke="#f0ebff" stroke-width="0.8" opacity="0.36"/><line x1="89.7" y1="457.6" x2="90.8" y2="463.7" stroke="#f0ebff" stroke-width="0.8" opacity="0.44"/><line x1="119.9" y1="478.3" x2="123.2" y2="487.2" stroke="#f0ebff" stroke-width="0.8" opacity="0.44"/><line x1="103.6" y1="443.5" x2="105.5" y2="450.3" stroke="#f0ebff" stroke-width="0.8" opacity="0.48"/><line x1="120.6" y1="403.0" x2="123.2" y2="409.6" stroke="#f0ebff" stroke-width="0.8" opacity="0.36"/><line x1="135.4" y1="407.4" x2="140.2" y2="417.4" stroke="#f0ebff" stroke-width="0.8" opacity="0.45"/><line x1="91.7" y1="454.8" x2="92.8" y2="460.4" stroke="#f0ebff" stroke-width="0.8" opacity="0.29"/><line x1="125.8" y1="413.1" x2="130.4" y2="424.3" stroke="#f0ebff" stroke-width="0.8" opacity="0.39"/><line x1="107.7" y1="467.3" x2="109.2" y2="472.5" stroke="#f0ebff" stroke-width="0.8" opacity="0.47"/><line x1="89.6" y1="404.6" x2="91.6" y2="416.3" stroke="#f0ebff" stroke-width="0.8" opacity="0.45"/><line x1="100.9" y1="401.3" x2="103.9" y2="413.1" stroke="#f0ebff" stroke-width="0.8" opacity="0.45"/><line x1="141.0" y1="403.6" x2="145.8" y2="412.9" stroke="#f0ebff" stroke-width="0.8" opacity="0.36"/><line x1="101.7" y1="422.3" x2="104.1" y2="431.6" stroke="#f0ebff" stroke-width="0.8" opacity="0.35"/><line x1="111.8" y1="403.2" x2="115.3" y2="414.1" stroke="#f0ebff" stroke-width="0.8" opacity="0.44"/><line x1="139.9" y1="432.0" x2="145.5" y2="443.0" stroke="#f0ebff" stroke-width="0.8" opacity="0.41"/><line x1="125.7" y1="445.6" x2="129.9" y2="455.8" stroke="#f0ebff" stroke-width="0.8" opacity="0.37"/><line x1="92.5" y1="393.2" x2="93.7" y2="399.6" stroke="#f0ebff" stroke-width="0.8" opacity="0.26"/><line x1="145.6" y1="436.7" x2="151.3" y2="447.0" stroke="#f0ebff" stroke-width="0.8" opacity="0.25"/><line x1="117.5" y1="476.3" x2="120.9" y2="485.6" stroke="#f0ebff" stroke-width="0.8" opacity="0.38"/><line x1="117.2" y1="399.7" x2="119.4" y2="405.8" stroke="#f0ebff" stroke-width="0.8" opacity="0.30"/><line x1="111.1" y1="427.4" x2="114.7" y2="438.6" stroke="#f0ebff" stroke-width="0.8" opacity="0.30"/><line x1="103.0" y1="416.9" x2="104.6" y2="423.0" stroke="#f0ebff" stroke-width="0.8" opacity="0.34"/><line x1="101.8" y1="436.8" x2="103.1" y2="442.0" stroke="#f0ebff" stroke-width="0.8" opacity="0.53"/><line x1="110.7" y1="481.0" x2="113.8" y2="487.5" stroke="#f0ebff" stroke-width="0.8" opacity="0.45"/><line x1="117.6" y1="481.7" x2="119.7" y2="487.5" stroke="#f0ebff" stroke-width="0.8" opacity="0.45"/><line x1="105.5" y1="455.4" x2="108.3" y2="465.5" stroke="#f0ebff" stroke-width="0.8" opacity="0.30"/><line x1="99.5" y1="392.4" x2="101.1" y2="399.0" stroke="#f0ebff" stroke-width="0.8" opacity="0.27"/><rect x="85.7" y="289.3" width="67.6" height="19.7" fill="url(#gB1)"/><rect x="85.7" y="309" width="67.6" height="20" fill="url(#gB2)"/><rect x="85.7" y="428.1" width="67.6" height="20" fill="url(#gB8)"/><line x1="104.2" y1="449.5" x2="104.2" y2="476" stroke="rgb(25,10,130)" stroke-width="1.8"/><path d="M114.2,479 C114,482.5 113.6,485.5 113.5,488 L128.5,488 C126.5,487 124,486.3 121,484.8 C118,483.2 116,481 114.2,479 Z" fill="#fff"/>
<rect x="85.8" y="308.35" width="67.80" height="1.5" fill="#0e0e0e"/>
<rect x="85.8" y="328.75" width="67.80" height="1.5" fill="#0e0e0e"/>
<rect x="85.8" y="348.45" width="67.80" height="1.5" fill="#0e0e0e"/>
<rect x="85.8" y="367.55" width="67.80" height="1.5" fill="#0e0e0e"/>
<rect x="85.8" y="388.25" width="67.80" height="1.5" fill="#0e0e0e"/>
<rect x="85.8" y="407.65" width="67.80" height="1.5" fill="#0e0e0e"/>
<rect x="85.8" y="427.45" width="67.80" height="1.5" fill="#0e0e0e"/>
<rect x="85.8" y="447.75" width="67.80" height="1.5" fill="#0e0e0e"/>
<rect x="85.8" y="467.25" width="67.80" height="1.5" fill="#0e0e0e"/>
<rect x="85.8" y="289.4" width="67.8" height="198.60000000000002" fill="none" stroke="#333" stroke-width="1.2"/>
<line x1="167.0" y1="20" x2="167.0" y2="216" stroke="#dedede" stroke-width="1" stroke-opacity="0.6"/>
<line x1="201.5" y1="20" x2="201.5" y2="216" stroke="#dedede" stroke-width="1" stroke-opacity="1"/>
<line x1="236.0" y1="20" x2="236.0" y2="216" stroke="#dedede" stroke-width="1" stroke-opacity="1"/>
<line x1="270.5" y1="20" x2="270.5" y2="216" stroke="#dedede" stroke-width="1" stroke-opacity="1"/>
<line x1="305.0" y1="20" x2="305.0" y2="216" stroke="#dedede" stroke-width="1" stroke-opacity="1"/>
<line x1="339.5" y1="20" x2="339.5" y2="216" stroke="#dedede" stroke-width="1" stroke-opacity="1"/>
<line x1="374.0" y1="20" x2="374.0" y2="216" stroke="#dedede" stroke-width="1" stroke-opacity="1"/>
<line x1="408.5" y1="20" x2="408.5" y2="216" stroke="#dedede" stroke-width="1" stroke-opacity="1"/>
<line x1="443.0" y1="20" x2="443.0" y2="216" stroke="#dedede" stroke-width="1" stroke-opacity="1"/>
<line x1="477.5" y1="20" x2="477.5" y2="216" stroke="#dedede" stroke-width="1" stroke-opacity="1"/>
<rect x="166.8" y="21.00" width="129.20" height="4" fill="#ea0000" fill-opacity="1"/>
<rect x="166.8" y="25.00" width="114.20" height="4" fill="#0070c4" fill-opacity="1"/>
<rect x="166.8" y="29.00" width="1.70" height="4" fill="#ffc000" fill-opacity="1"/>
<rect x="166.8" y="33.00" width="2.20" height="4" fill="#00b050" fill-opacity="1"/>
<text x="161" y="31.3" text-anchor="end" class="bl">1</text>
<rect x="166.8" y="40.75" width="240.60" height="4" fill="#ea0000" fill-opacity="1"/>
<rect x="166.8" y="44.75" width="190.20" height="4" fill="#0070c4" fill-opacity="1"/>
<rect x="166.8" y="48.75" width="221.20" height="4" fill="#ffc000" fill-opacity="1"/>
<rect x="166.8" y="52.75" width="169.20" height="4" fill="#00b050" fill-opacity="1"/>
<text x="161" y="51.0" text-anchor="end" class="bl">2</text>
<rect x="166.8" y="60.50" width="169.80" height="4" fill="#ea0000" fill-opacity="1"/>
<rect x="166.8" y="64.50" width="166.80" height="4" fill="#0070c4" fill-opacity="1"/>
<rect x="166.8" y="68.50" width="250.20" height="4" fill="#ffc000" fill-opacity="1"/>
<rect x="166.8" y="72.50" width="267.80" height="4" fill="#00b050" fill-opacity="1"/>
<text x="161" y="70.8" text-anchor="end" class="bl">3</text>
<rect x="166.8" y="80.25" width="90.00" height="4" fill="#ea0000" fill-opacity="1"/>
<rect x="166.8" y="84.25" width="141.20" height="4" fill="#0070c4" fill-opacity="1"/>
<rect x="166.8" y="88.25" width="185.80" height="4" fill="#ffc000" fill-opacity="1"/>
<rect x="166.8" y="92.25" width="224.80" height="4" fill="#00b050" fill-opacity="1"/>
<text x="161" y="90.5" text-anchor="end" class="bl">4</text>
<rect x="166.8" y="100.00" width="34.20" height="4" fill="#ea0000" fill-opacity="1"/>
<rect x="166.8" y="104.00" width="57.20" height="4" fill="#0070c4" fill-opacity="1"/>
<rect x="166.8" y="108.00" width="30.20" height="4" fill="#ffc000" fill-opacity="1"/>
<rect x="166.8" y="112.00" width="29.20" height="4" fill="#00b050" fill-opacity="1"/>
<text x="161" y="110.3" text-anchor="end" class="bl">5</text>
<rect x="166.8" y="119.75" width="11.80" height="4" fill="#ea0000" fill-opacity="1"/>
<rect x="166.8" y="123.75" width="8.60" height="4" fill="#0070c4" fill-opacity="1"/>
<rect x="166.8" y="127.75" width="1.20" height="4" fill="#ffc000" fill-opacity="0.45"/>
<rect x="166.8" y="131.75" width="3.00" height="4" fill="#00b050" fill-opacity="1"/>
<text x="161" y="130.1" text-anchor="end" class="bl">6</text>
<rect x="166.8" y="139.50" width="8.60" height="4" fill="#ea0000" fill-opacity="1"/>
<rect x="166.8" y="143.50" width="7.40" height="4" fill="#0070c4" fill-opacity="1"/>
<rect x="166.8" y="147.50" width="1.20" height="4" fill="#ffc000" fill-opacity="0.45"/>
<rect x="166.8" y="151.50" width="1.20" height="4" fill="#00b050" fill-opacity="0.45"/>
<text x="161" y="149.8" text-anchor="end" class="bl">7</text>
<rect x="166.8" y="159.25" width="5.20" height="4" fill="#ea0000" fill-opacity="1"/>
<rect x="166.8" y="163.25" width="4.70" height="4" fill="#0070c4" fill-opacity="1"/>
<rect x="166.8" y="167.25" width="1.20" height="4" fill="#ffc000" fill-opacity="0.45"/>
<rect x="166.8" y="171.25" width="1.80" height="4" fill="#00b050" fill-opacity="1"/>
<text x="161" y="169.6" text-anchor="end" class="bl">8</text>
<rect x="166.8" y="179.00" width="1.70" height="4" fill="#ea0000" fill-opacity="1"/>
<rect x="166.8" y="183.00" width="1.70" height="4" fill="#0070c4" fill-opacity="1"/>
<rect x="166.8" y="187.00" width="1.20" height="4" fill="#ffc000" fill-opacity="0.45"/>
<rect x="166.8" y="191.00" width="1.70" height="4" fill="#00b050" fill-opacity="1"/>
<text x="161" y="189.3" text-anchor="end" class="bl">9</text>
<rect x="166.8" y="198.75" width="2.00" height="4" fill="#ea0000" fill-opacity="1"/>
<rect x="166.8" y="202.75" width="1.20" height="4" fill="#0070c4" fill-opacity="0.45"/>
<rect x="166.8" y="206.75" width="3.00" height="4" fill="#ffc000" fill-opacity="1"/>
<text x="161" y="209.1" text-anchor="end" class="bl">10</text>
<text x="168.5" y="227.4" text-anchor="middle" class="ax">0%</text>
<text x="203.0" y="227.4" text-anchor="middle" class="ax">5%</text>
<text x="237.5" y="227.4" text-anchor="middle" class="ax">10%</text>
<text x="272.0" y="227.4" text-anchor="middle" class="ax">15 %</text>
<text x="306.5" y="227.4" text-anchor="middle" class="ax">20%</text>
<text x="341.0" y="227.4" text-anchor="middle" class="ax">25%</text>
<text x="375.5" y="227.4" text-anchor="middle" class="ax">30%</text>
<text x="410.0" y="227.4" text-anchor="middle" class="ax">35%</text>
<text x="444.5" y="227.4" text-anchor="middle" class="ax">40%</text>
<text x="479.0" y="227.4" text-anchor="middle" class="ax">45%</text>
<text x="313.5" y="241.6" text-anchor="middle" class="xt">DPN+ cells per bin %</text>
<rect x="261.8" y="253.4" width="4" height="4" fill="#ea0000"/>
<text x="267" y="257.8" class="lg">SOX5</text>
<rect x="289.40000000000003" y="253.4" width="4" height="4" fill="#0070c4"/>
<text x="294.6" y="257.8" class="lg">CTIP2</text>
<rect x="317.8" y="253.4" width="4" height="4" fill="#ffc000"/>
<text x="323" y="257.8" class="lg">TLE4</text>
<rect x="342.8" y="253.4" width="4" height="4" fill="#00b050"/>
<text x="348" y="257.8" class="lg">TBR1</text>
<line x1="171.6" y1="289" x2="171.6" y2="489" stroke="#dedede" stroke-width="1" stroke-opacity="0.6"/>
<line x1="218.4" y1="289" x2="218.4" y2="489" stroke="#dedede" stroke-width="1" stroke-opacity="1"/>
<line x1="265.2" y1="289" x2="265.2" y2="489" stroke="#dedede" stroke-width="1" stroke-opacity="1"/>
<line x1="312.0" y1="289" x2="312.0" y2="489" stroke="#dedede" stroke-width="1" stroke-opacity="1"/>
<line x1="358.8" y1="289" x2="358.8" y2="489" stroke="#dedede" stroke-width="1" stroke-opacity="1"/>
<line x1="405.6" y1="289" x2="405.6" y2="489" stroke="#dedede" stroke-width="1" stroke-opacity="1"/>
<line x1="452.4" y1="289" x2="452.4" y2="489" stroke="#dedede" stroke-width="1" stroke-opacity="1"/>
<line x1="499.2" y1="289" x2="499.2" y2="489" stroke="#dedede" stroke-width="1" stroke-opacity="1"/>
<rect x="171.4" y="293.00" width="21.00" height="4" fill="#ea0000" fill-opacity="1"/>
<rect x="171.4" y="297.00" width="10.00" height="4" fill="#0070c4" fill-opacity="1"/>
<rect x="171.4" y="301.00" width="96.60" height="4" fill="#ffc000" fill-opacity="1"/>
<rect x="171.4" y="305.00" width="95.60" height="4" fill="#00b050" fill-opacity="1"/>
<text x="166" y="303.3" text-anchor="end" class="bl">1</text>
<rect x="171.4" y="312.80" width="77.60" height="4" fill="#ea0000" fill-opacity="1"/>
<rect x="171.4" y="316.80" width="140.20" height="4" fill="#0070c4" fill-opacity="1"/>
<rect x="171.4" y="320.80" width="285.60" height="4" fill="#ffc000" fill-opacity="1"/>
<rect x="171.4" y="324.80" width="312.20" height="4" fill="#00b050" fill-opacity="1"/>
<text x="166" y="323.1" text-anchor="end" class="bl">2</text>
<rect x="171.4" y="332.60" width="59.00" height="4" fill="#ea0000" fill-opacity="1"/>
<rect x="171.4" y="336.60" width="100.60" height="4" fill="#0070c4" fill-opacity="1"/>
<rect x="171.4" y="340.60" width="71.60" height="4" fill="#ffc000" fill-opacity="1"/>
<rect x="171.4" y="344.60" width="30.20" height="4" fill="#00b050" fill-opacity="1"/>
<text x="166" y="342.9" text-anchor="end" class="bl">3</text>
<rect x="171.4" y="352.40" width="81.60" height="4" fill="#ea0000" fill-opacity="1"/>
<rect x="171.4" y="356.40" width="60.60" height="4" fill="#0070c4" fill-opacity="1"/>
<rect x="171.4" y="360.40" width="8.00" height="4" fill="#ffc000" fill-opacity="1"/>
<rect x="171.4" y="364.40" width="10.20" height="4" fill="#00b050" fill-opacity="1"/>
<text x="166" y="362.7" text-anchor="end" class="bl">4</text>
<rect x="171.4" y="372.20" width="64.00" height="4" fill="#ea0000" fill-opacity="1"/>
<rect x="171.4" y="376.20" width="48.00" height="4" fill="#0070c4" fill-opacity="1"/>
<rect x="171.4" y="380.20" width="2.60" height="4" fill="#ffc000" fill-opacity="1"/>
<rect x="171.4" y="384.20" width="8.20" height="4" fill="#00b050" fill-opacity="1"/>
<text x="166" y="382.5" text-anchor="end" class="bl">5</text>
<rect x="171.4" y="392.00" width="46.20" height="4" fill="#ea0000" fill-opacity="1"/>
<rect x="171.4" y="396.00" width="40.20" height="4" fill="#0070c4" fill-opacity="1"/>
<rect x="171.4" y="400.00" width="1.70" height="4" fill="#ffc000" fill-opacity="1"/>
<rect x="171.4" y="404.00" width="7.60" height="4" fill="#00b050" fill-opacity="1"/>
<text x="166" y="402.3" text-anchor="end" class="bl">6</text>
<rect x="171.4" y="411.80" width="58.20" height="4" fill="#ea0000" fill-opacity="1"/>
<rect x="171.4" y="415.80" width="36.00" height="4" fill="#0070c4" fill-opacity="1"/>
<rect x="171.4" y="419.80" width="1.20" height="4" fill="#ffc000" fill-opacity="0.45"/>
<rect x="171.4" y="423.80" width="3.00" height="4" fill="#00b050" fill-opacity="1"/>
<text x="166" y="422.1" text-anchor="end" class="bl">7</text>
<rect x="171.4" y="431.60" width="49.20" height="4" fill="#ea0000" fill-opacity="1"/>
<rect x="171.4" y="435.60" width="5.00" height="4" fill="#0070c4" fill-opacity="1"/>
<text x="166" y="441.9" text-anchor="end" class="bl">8</text>
<rect x="171.4" y="451.40" width="9.60" height="4" fill="#ea0000" fill-opacity="1"/>
<rect x="171.4" y="463.40" width="1.70" height="4" fill="#00b050" fill-opacity="1"/>
<text x="166" y="461.7" text-anchor="end" class="bl">9</text>
<rect x="171.4" y="471.20" width="1.70" height="4" fill="#ea0000" fill-opacity="1"/>
<text x="166" y="481.5" text-anchor="end" class="bl">10</text>
<text x="173.1" y="503" text-anchor="middle" class="ax">0%</text>
<text x="219.9" y="503" text-anchor="middle" class="ax">10%</text>
<text x="266.7" y="503" text-anchor="middle" class="ax">20%</text>
<text x="313.5" y="503" text-anchor="middle" class="ax">30%</text>
<text x="360.3" y="503" text-anchor="middle" class="ax">40%</text>
<text x="407.1" y="503" text-anchor="middle" class="ax">50%</text>
<text x="453.9" y="503" text-anchor="middle" class="ax">60%</text>
<text x="500.7" y="503" text-anchor="middle" class="ax">70%</text>
<text x="337.5" y="516.5" text-anchor="middle" class="xt">DPN+ cells per bin %</text>
<rect x="275.40000000000003" y="523.2" width="4" height="4" fill="#ea0000"/>
<text x="280.6" y="527.6" class="lg">SOX5</text>
<rect x="303.40000000000003" y="523.2" width="4" height="4" fill="#0070c4"/>
<text x="308.6" y="527.6" class="lg">CTIP2</text>
<rect x="332.8" y="523.2" width="4" height="4" fill="#ffc000"/>
<text x="338" y="527.6" class="lg">TLE4</text>
<rect x="357.8" y="523.2" width="4" height="4" fill="#00b050"/>
<text x="363" y="527.6" class="lg">TBR1</text>
</svg>
</body></html>
